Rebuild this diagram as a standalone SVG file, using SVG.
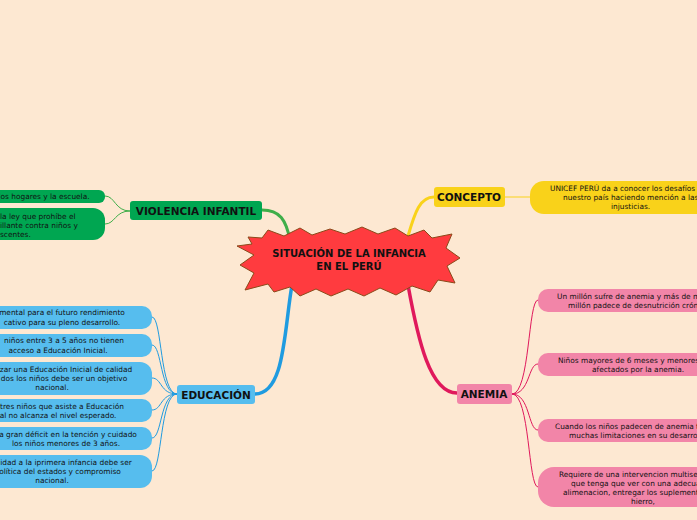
<svg xmlns="http://www.w3.org/2000/svg" width="697" height="520" viewBox="0 0 697 520">
<style>
text{font-family:Verdana,"DejaVu Sans",sans-serif;fill:#111}
.s{font-size:7.4px;text-anchor:middle}
.m{font-size:10.5px;font-weight:bold;text-anchor:middle}
.g{fill:#00a651}.b{fill:#56bdee}.y{fill:#f9d21a}.p{fill:#f285a8}
.c{fill:none}
</style>
<rect width="697" height="520" fill="#fde8d2"/>
<g id="connectors" class="c">
<path d="M262,210 C280,210 286,220 290,240" stroke="#3fae49" stroke-width="3"/>
<path d="M434,197 C420,197 415,212 408,236" stroke="#f9d21a" stroke-width="3"/>
<path d="M292,285 C284,330 285,394 255,394" stroke="#1f9be0" stroke-width="3.5"/>
<path d="M408,285 C418,340 430,393 457,393" stroke="#e0195c" stroke-width="3.5"/>
<g stroke="#3fae49" stroke-width="1"><path d="M130,211 C115,211 115,196 105,196"/><path d="M130,211 C115,211 115,224 105,224"/></g>
<path d="M505,197 L530,197" stroke="#f9d21a" stroke-width="1"/>
<g stroke="#1f9be0" stroke-width="1"><path d="M177,394 C160,394 162,317 152,317"/><path d="M177,394 C160,394 162,345 152,345"/><path d="M177,394 C160,394 162,378 152,378"/><path d="M177,394 C160,394 162,410 152,410"/><path d="M177,394 C160,394 162,438 152,438"/><path d="M177,394 C160,394 162,471 152,471"/></g>
<g stroke="#e0195c" stroke-width="1"><path d="M512,394 C530,394 528,300 538,300"/><path d="M512,394 C530,394 528,364 538,364"/><path d="M512,394 C530,394 528,430 538,430"/><path d="M512,394 C530,394 528,487 538,487"/></g>
</g>
<g id="center">
<polygon points="248,237 262,238 268,230 284,236 300,228 312,235 330,229 345,234 362,227 378,234 395,228 408,236 424,230 432,238 452,234 446,248 460,258 447,266 455,283 438,280 430,292 412,286 396,295 380,288 364,296 348,289 331,296 316,289 300,296 290,287 274,292 268,284 245,290 254,273 240,265 254,255 237,246 252,244" fill="#ff3b3f" stroke="#8b4a1a" stroke-width="1"/>
<text x="349" y="257" style="font-size:10px;font-weight:900;text-anchor:middle;font-family:'DejaVu Sans',sans-serif">SITUACIÓN DE LA INFANCIA</text>
<text x="349" y="270" style="font-size:10px;font-weight:900;text-anchor:middle;font-family:'DejaVu Sans',sans-serif">EN EL PERÚ</text>
</g>
<g id="violencia"><rect class="g" x="130" y="201" width="132" height="19" rx="3"/><text class="m" x="196" y="215">VIOLENCIA INFANTIL</text></g>
<g id="v1"><rect class="g" x="-20" y="190" width="125" height="13" rx="6"/><text class="s" x="44" y="199">los hogares y la escuela.</text></g>
<g id="v2"><rect class="g" x="-20" y="208" width="125" height="32" rx="12"/><text style="font-size:7.4px" x="0" y="219">la ley que prohíbe el</text><text style="font-size:7.4px" x="0" y="228">illante contra niños y</text><text style="font-size:7.4px" x="0" y="237">scentes.</text></g>
<g id="concepto"><rect class="y" x="434" y="187" width="71" height="20" rx="3"/><text class="m" x="469" y="201">CONCEPTO</text></g>
<g id="c1"><rect class="y" x="530" y="181" width="190" height="33" rx="14"/><text style="font-size:7.4px" x="550" y="191">UNICEF PERÚ da a conocer los desafíos</text><text style="font-size:7.4px" x="563" y="200">nuestro país haciendo mención a las</text><text style="font-size:7.4px" x="611" y="209">injusticias.</text></g>
<g id="educacion"><rect class="b" x="177" y="385" width="78" height="19" rx="3"/><text class="m" x="216" y="399">EDUCACIÓN</text></g>
<g id="e1"><rect class="b" x="-20" y="306" width="172" height="23" rx="10"/><text class="s" x="62" y="315">mental para el futuro rendimiento</text><text class="s" x="62" y="325">cativo para su pleno desarrollo.</text></g>
<g id="e2"><rect class="b" x="-20" y="334" width="172" height="23" rx="10"/><text class="s" x="64" y="343">niños entre 3 a 5 años no tienen</text><text class="s" x="58" y="353">acceso a Educación Inicial.</text></g>
<g id="e3"><rect class="b" x="-20" y="362" width="172" height="33" rx="12"/><text class="s" x="66" y="372">zar una Educación Inicial de calidad</text><text class="s" x="64" y="381">dos los niños debe ser un objetivo</text><text class="s" x="52" y="390">nacional.</text></g>
<g id="e4"><rect class="b" x="-20" y="399" width="172" height="23" rx="10"/><text class="s" x="62" y="409">tres niños que asiste a Educación</text><text class="s" x="58" y="418">al no alcanza el nivel esperado.</text></g>
<g id="e5"><rect class="b" x="-20" y="427" width="172" height="23" rx="10"/><text class="s" x="68" y="437">a gran déficit en la tención y cuidado</text><text class="s" x="66" y="446">los niños menores de 3 años.</text></g>
<g id="e6"><rect class="b" x="-20" y="455" width="172" height="33" rx="12"/><text class="s" x="66" y="465">idad a la iprimera infancia debe ser</text><text class="s" x="60" y="474">olítica del estados y compromiso</text><text class="s" x="52" y="483">nacional.</text></g>
<g id="anemia"><rect class="p" x="457" y="384" width="55" height="20" rx="3"/><text class="m" x="484" y="398">ANEMIA</text></g>
<g id="a1"><rect class="p" x="538" y="289" width="180" height="23" rx="10"/><text style="font-size:7.4px" x="557" y="299">Un millón sufre de anemia y más de medio</text><text style="font-size:7.4px" x="568" y="308">millón padece de desnutrición crónica.</text></g>
<g id="a2"><rect class="p" x="538" y="353" width="180" height="23" rx="10"/><text style="font-size:7.4px" x="558" y="363">Niños mayores de 6 meses y menores de 3</text><text style="font-size:7.4px" x="592" y="372">afectados por la anemia.</text></g>
<g id="a3"><rect class="p" x="538" y="419" width="180" height="23" rx="10"/><text style="font-size:7.4px" x="555" y="429">Cuando los niños padecen de anemia tienen</text><text style="font-size:7.4px" x="569" y="438">muchas limitaciones en su desarrollo.</text></g>
<g id="a4"><rect class="p" x="538" y="467" width="180" height="40" rx="16"/><text style="font-size:7.4px" x="559" y="477">Requiere de una intervencion multisectorial</text><text style="font-size:7.4px" x="571" y="486">que tenga que ver con una adecuada</text><text style="font-size:7.4px" x="563" y="495">alimenacion, entregar los suplementos de</text><text style="font-size:7.4px" x="631" y="504">hierro,</text></g>
</svg>
